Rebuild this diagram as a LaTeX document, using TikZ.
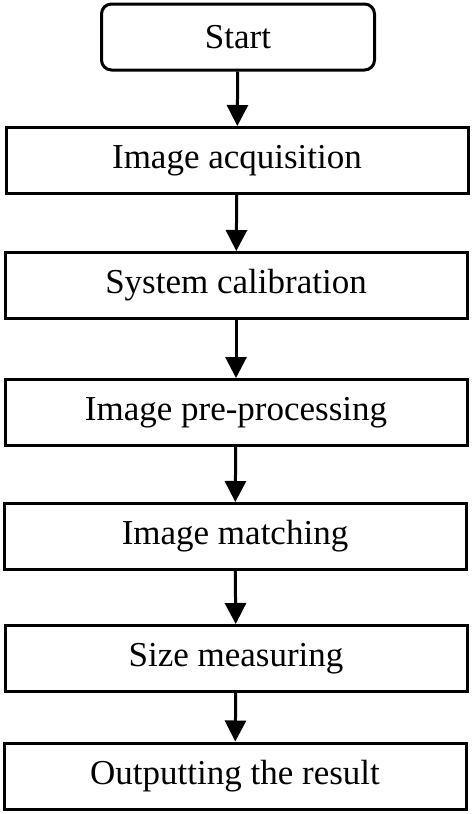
\documentclass[tikz,border=0pt]{standalone}
\usepackage{fontspec}
\setmainfont{Liberation Serif}
\usetikzlibrary{arrows.meta}
\begin{document}
\begin{tikzpicture}[x=0.5pt,y=-0.5pt,
  stepbox/.style={draw,line width=1.5pt,minimum width=231pt,minimum height=33pt,inner sep=0pt,font=\fontsize{17.5}{20}\selectfont},
  startbox/.style={stepbox,rounded corners=5pt,minimum width=136.5pt},
  flow/.style={-{Triangle[width=10.5pt,length=10.5pt]},line width=1.5pt}]
\useasboundingbox (0,0) rectangle (474,814);
\node[startbox] (v0) at (238,37) {Start};
\node[stepbox] (v1) at (237,160.5) {Image acquisition};
\node[stepbox] (v2) at (236,285.5) {System calibration};
\node[stepbox] (v3) at (236,412.5) {Image pre-processing};
\node[stepbox] (v4) at (235,536.5) {Image matching};
\node[stepbox] (v5) at (236,658.5) {Size measuring};
\node[stepbox] (v6) at (235,776) {Outputting the result};
\draw [flow] (v0) edge (v1);
\draw [flow] (v1) edge (v2);
\draw [flow] (v2) edge (v3);
\draw [flow] (v3) edge (v4);
\draw [flow] (v4) edge (v5);
\draw [flow] (v5) edge (v6);
\end{tikzpicture}
\end{document}
